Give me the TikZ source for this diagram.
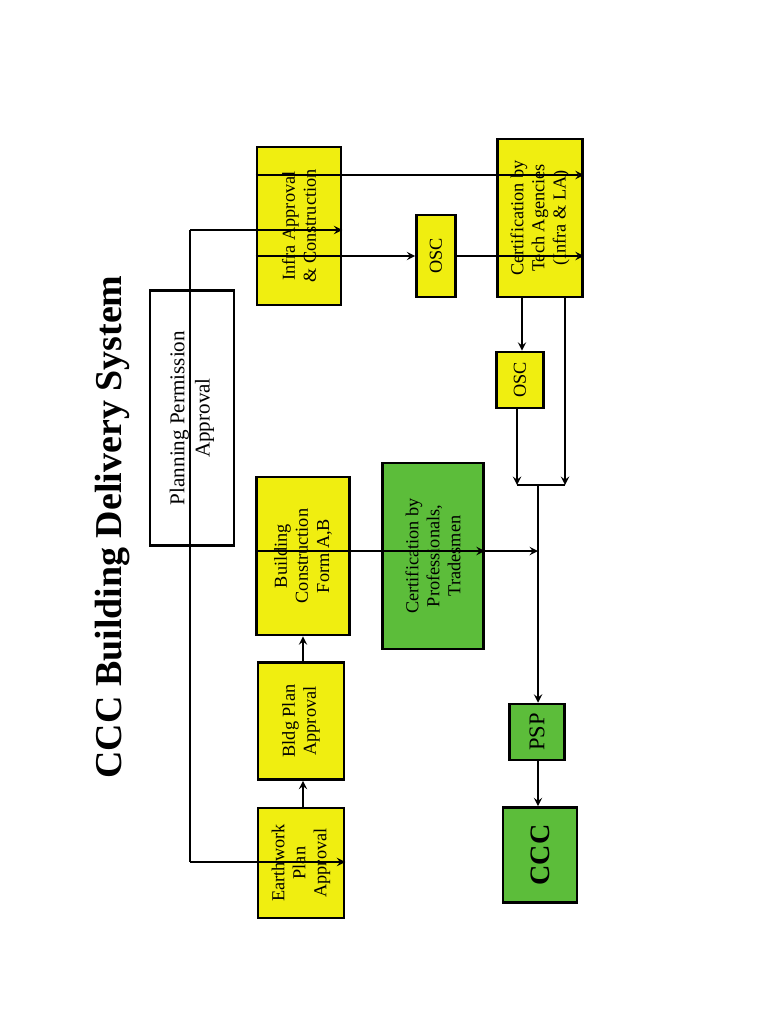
\documentclass[tikz,border=0pt]{standalone}
\usepackage{fontspec}
\setmainfont{Liberation Serif}
\usepackage{xcolor}
\definecolor{boxyellow}{HTML}{F0EE10}
\definecolor{boxgreen}{HTML}{5CBD3A}
\begin{document}
\begin{tikzpicture}[
        x=0.025cm, y=-0.025cm,
        box/.style={draw, line width=1.8pt, rotate=90, inner sep=0pt, align=center, font=\fontsize{13}{15}\selectfont},
        yel/.style={box, fill=boxyellow},
        grn/.style={box, fill=boxgreen},
        arrow/.style={->, >=stealth, line width=1.6pt},
        link/.style={line width=1.6pt}
    ]
        \useasboundingbox (0,0) rectangle (768,1024);
        % Title
        \node[rotate=90, font=\fontsize{27}{30}\selectfont\bfseries] (title) at (113,527) {CCC Building Delivery System};

        % Upper part
        \node[box, fill=white, minimum width=6.375cm, minimum height=2.1cm, font=\fontsize{15}{18}\selectfont] (planning) at (192,418) {Planning Permission\\Approval};
        \node[yel, minimum width=3.95cm, minimum height=2.1cm] (infra) at (299,226) {Infra Approval\\\& Construction};
        \node[yel, minimum width=2.05cm, minimum height=0.975cm] (osca) at (436,256) {OSC};
        \node[yel, minimum width=3.95cm, minimum height=2.125cm] (certtech) at (540,218) {Certification by\\Tech Agencies\\(Infra \& LA)};
        \node[yel, minimum width=1.4cm, minimum height=1.175cm] (oscb) at (520,380) {OSC};

        % Building part
        \node[yel, minimum width=3.95cm, minimum height=2.325cm] (buildcon) at (303,556) {Building\\Construction\\Form A,B};
        \node[grn, minimum width=4.65cm, minimum height=2.525cm] (certprof) at (433,556) {Certification by\\Professionals,\\Tradesmen};
        \node[yel, minimum width=2.925cm, minimum height=2.15cm] (bldgplan) at (301,721) {Bldg Plan\\Approval};
        \node[yel, minimum width=2.75cm, minimum height=2.15cm] (earthwork) at (301,863) {Earthwork\\Plan\\Approval};

        % Final part
        \node[grn, minimum width=1.4cm, minimum height=1.375cm, font=\fontsize{16}{18}\selectfont] (psp) at (537,732) {PSP};
        \node[grn, minimum width=2.375cm, minimum height=1.85cm, font=\fontsize{20}{22}\selectfont\bfseries] (ccc) at (540,855) {CCC};

        % Junctions
        \coordinate (top) at (190,230);
        \coordinate (bot) at (190,862);
        \coordinate (joinl) at (517,485);
        \coordinate (joinr) at (565,485);
        \coordinate (joinm) at (538,485);
        \coordinate (joinp) at (538,551);

        % Arrows
        \draw[link] (top) -- (bot);
        \draw[arrow] (top) -- (infra.south |- top);
        \draw[arrow] (bot) -- (earthwork.south |- bot);
        \draw[arrow] (infra.north |- 0,175) -- (certtech.south |- 0,175);
        \draw[arrow] (infra.north |- osca) -- (osca);
        \draw[arrow] (osca) -- (certtech.south |- osca);
        \draw[arrow] (certtech.west -| 522,0) -- (oscb.east -| 522,0);
        \draw[arrow] (certtech.west -| joinr) -- (joinr);
        \draw[arrow] (oscb.west -| joinl) -- (joinl);
        \draw[link] (joinl) -- (joinr);
        \draw[arrow] (joinm) -- (psp.east -| joinm);
        \draw[arrow] (certprof.north |- joinp) -- (joinp);
        \draw[arrow] (buildcon.north |- joinp) -- (certprof.south |- joinp);
        \draw[arrow] (bldgplan.east -| 303,0) -- (buildcon.west -| 303,0);
        \draw[arrow] (earthwork.east -| 303,0) -- (bldgplan.west -| 303,0);
        \draw[arrow] (psp.west -| 538,0) -- (ccc.east -| 538,0);
    \end{tikzpicture}
\end{document}
